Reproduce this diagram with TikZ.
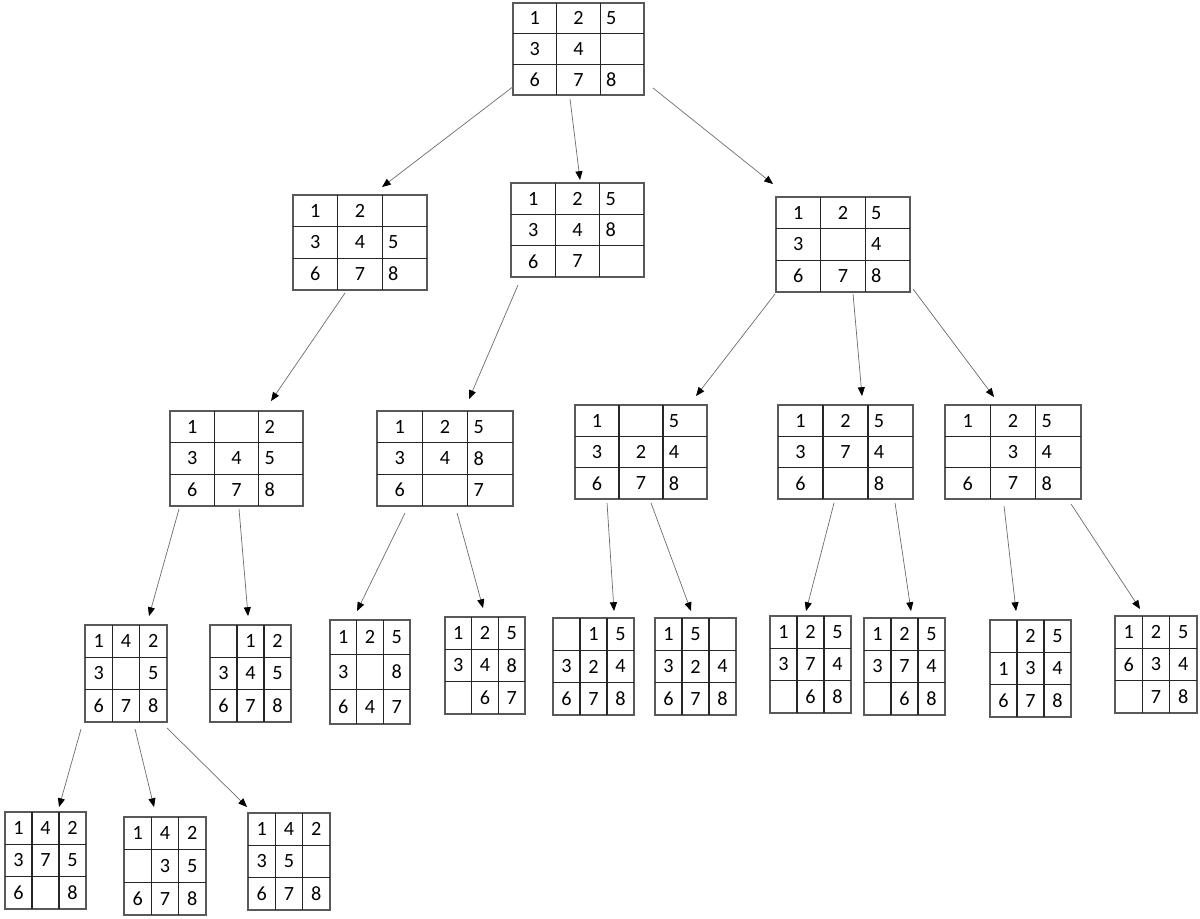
\documentclass[tikz,border=0pt]{standalone}
\usepackage{fontspec}
\setmainfont{Carlito}
\usetikzlibrary{arrows.meta,fit}

\tikzset{
  board/.style={draw=black!65, line width=1.1pt, inner sep=0pt},
  cellline/.style={black!85, line width=0.75pt},
  tile/.style={font=\fontsize{11.5}{12}\selectfont, inner sep=0pt},
  move/.style={-{Triangle[length=5pt,width=4pt,color=black]}, gray!85!black, line width=0.4pt},
}

% one 8-puzzle state: #1 name, #2 left, #3 top, #4 right, #5 bottom, #6 tiles (row by row)
\newcommand\puzzle[6]{%
  \node[board, fit={(#2,#3) (#4,#5)}] (#1) {};
  \pgfmathsetmacro\cellw{(#4-#2)/3}
  \pgfmathsetmacro\cellh{(#5-#3)/3}
  \draw[cellline] (#2+\cellw,#3) -- (#2+\cellw,#5) (#2+2*\cellw,#3) -- (#2+2*\cellw,#5)
                  (#2,#3+\cellh) -- (#4,#3+\cellh) (#2,#3+2*\cellh) -- (#4,#3+2*\cellh);
  \foreach \val [count=\k from 0] in {#6} {
    \pgfmathtruncatemacro\row{\k/3}
    \pgfmathtruncatemacro\col{\k-3*\row}
    \pgfmathsetmacro\tx{ifthenelse(and(\col==2,\cellw>30), #2+2*\cellw+11, #2+(\col+0.5)*\cellw)}
    \node[tile] at (\tx, #3+\row*\cellh+0.5*\cellh) {\val};
  }
}

\begin{document}
\begin{tikzpicture}[x=0.02cm, y=-0.02cm]
\useasboundingbox (0,0) rectangle (1200,919);

%% ── states ──────────────────────────────────────────────
\puzzle{root}{513}{3}{644}{95}{1,2,5,3,4,{},6,7,8}

% depth 1
\puzzle{a}{293}{195}{427}{290}{1,2,{},3,4,5,6,7,8}
\puzzle{b}{511}{183}{644}{277}{1,2,5,3,4,8,6,7,{}}
\puzzle{c}{776}{197}{910}{292}{1,2,5,3,{},4,6,7,8}

% depth 2
\puzzle{aa}{170}{411}{303}{506}{1,{},2,3,4,5,6,7,8}
\puzzle{ba}{377}{411}{513}{506}{1,2,5,3,4,8,6,{},7}
\puzzle{ca}{575}{405}{707}{499}{1,{},5,3,2,4,6,7,8}
\puzzle{cb}{778}{405}{913}{499}{1,2,5,3,7,4,6,{},8}
\puzzle{cc}{945}{405}{1081}{499}{1,2,5,{},3,4,6,7,8}

% depth 3
\puzzle{aaa}{85}{625}{167}{722}{1,4,2,3,{},5,6,7,8}
\puzzle{aab}{210}{625}{291}{722}{{},1,2,3,4,5,6,7,8}
\puzzle{baa}{330}{620}{410}{724}{1,2,5,3,{},8,6,4,7}
\puzzle{bab}{445}{617}{525}{714}{1,2,5,3,4,8,{},6,7}
\puzzle{caa}{553}{618}{634}{715}{{},1,5,3,2,4,6,7,8}
\puzzle{cab}{655}{618}{736}{715}{1,5,{},3,2,4,6,7,8}
\puzzle{cba}{770}{616}{851}{713}{1,2,5,3,7,4,{},6,8}
\puzzle{cbb}{864}{618}{945}{715}{1,2,5,3,7,4,{},6,8}
\puzzle{cca}{990}{620}{1071}{717}{{},2,5,1,3,4,6,7,8}
\puzzle{ccb}{1115}{616}{1197}{713}{1,2,5,6,3,4,{},7,8}

% depth 4
\puzzle{aaaa}{5}{812}{86}{909}{1,4,2,3,7,5,6,{},8}
\puzzle{aaab}{124}{817}{206}{915}{1,4,2,{},3,5,6,7,8}
\puzzle{aaac}{248}{813}{330}{910}{1,4,2,3,5,{},6,7,8}

%% ── moves ───────────────────────────────────────────────
\draw[move] ([shift={(2,-10)}]root.south west) -- ([shift={(90,-7)}]a.north west);
\draw[move] ([shift={(58,3)}]root.south west) -- ([shift={(70,-2)}]b.north west);
\draw[move] ([shift={(8,-8)}]root.south east) -- ([shift={(-2,-12)}]c.north west);

\draw[move] ([shift={(53,2)}]a.south west) -- ([shift={(102,-9)}]aa.north west);
\draw[move] ([shift={(8,7)}]b.south west) -- ([shift={(93,-11)}]ba.north west);
\draw[move] ([shift={(0,1)}]c.south west) -- ([shift={(122,-8)}]ca.north west);
\draw[move] ([shift={(78,1)}]c.south west) -- ([shift={(85,-8)}]cb.north west);
\draw[move] ([shift={(2,-4)}]c.south east) -- ([shift={(50,-7)}]cc.north west);

\draw[move] ([shift={(10,2)}]aa.south west) -- ([shift={(65,-8)}]aaa.north west);
\draw[move] ([shift={(70,2)}]aa.south west) -- ([shift={(39,-8)}]aab.north west);
\draw[move] ([shift={(29,6)}]ba.south west) -- ([shift={(28,-8)}]baa.north west);
\draw[move] ([shift={(81,6)}]ba.south west) -- ([shift={(39,-8)}]bab.north west);
\draw[move] ([shift={(33,3)}]ca.south west) -- ([shift={(62,-6)}]caa.north west);
\draw[move] ([shift={(77,3)}]ca.south west) -- ([shift={(37,-6)}]cab.north west);
\draw[move] ([shift={(57,3)}]cb.south west) -- ([shift={(37,-4)}]cba.north west);
\draw[move] ([shift={(118,3)}]cb.south west) -- ([shift={(48,-6)}]cbb.north west);
\draw[move] ([shift={(60,6)}]cc.south west) -- ([shift={(27,-8)}]cca.north west);
\draw[move] ([shift={(127,4)}]cc.south west) -- ([shift={(26,-6)}]ccb.north west);

\draw[move] ([shift={(-3,6)}]aaa.south west) -- ([shift={(55,-4)}]aaaa.north west);
\draw[move] ([shift={(51,6)}]aaa.south west) -- ([shift={(31,-9)}]aaab.north west);
\draw[move] ([shift={(83,5)}]aaa.south west) -- ([shift={(0,-5)}]aaac.north west);

\end{tikzpicture}
\end{document}
